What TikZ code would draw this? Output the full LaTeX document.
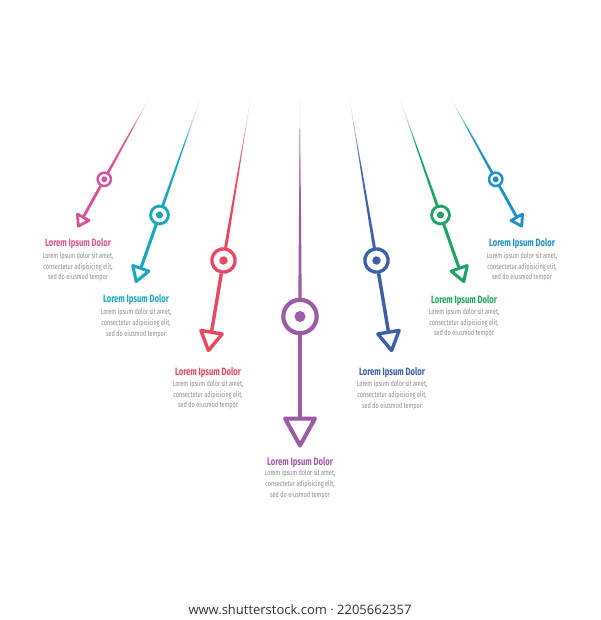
\documentclass[tikz,border=0pt]{standalone}
\usepackage{fontspec}
\setmainfont{Fira Sans}
\newfontfamily\condfont{Fira Sans}[FakeStretch=0.72]
\newfontfamily\footfont{Open Sans}
\usetikzlibrary{calc}
\definecolor{cpink}{HTML}{D6539A}
\definecolor{ccyan}{HTML}{1BA8BE}
\definecolor{cred}{HTML}{E8495E}
\definecolor{cpurple}{HTML}{9B5BA5}
\definecolor{cblue}{HTML}{3B5FA8}
\definecolor{cgreen}{HTML}{1FA463}
\definecolor{clblue}{HTML}{1E90C8}
\definecolor{bodygray}{HTML}{8C8C8C}
\colorlet{fadetop}{black!12}
\tikzset{
  titletext/.style={font=\condfont\bfseries\fontsize{10.6}{12}\selectfont, anchor=center, inner sep=0pt},
  bodytext/.style={font=\condfont\fontsize{7.7}{10.8}\selectfont, text=bodygray, align=center, anchor=center, inner sep=0pt},
  foottext/.style={font=\footfont\fontsize{13}{15}\selectfont, text=black!80, anchor=center, inner sep=0pt}
}
% #1 name, #2 colour, #3 x, #4 y, #5 angle, #6 scale, #7 stem length
\newcommand{\radarrow}[7]{%
\begin{scope}[shift={(#3,#4)}, rotate=#5]
  \coordinate (#1c) at (0,0);
  \pgfmathsetmacro{\sc}{#6}
  \pgfmathsetmacro{\Ro}{18.8*\sc}
  \pgfmathsetmacro{\rw}{1.2+3*\sc}
  \pgfmathsetmacro{\sw}{2+2*\sc}
  \pgfmathsetmacro{\hw}{1.1+0.6*\sc}
  \pgfmathsetmacro{\Ltot}{#7-\Ro+0.5}
  \pgfmathsetmacro{\um}{-#7+0.5*\Ltot}
  \pgfmathsetmacro{\wm}{0.5*\hw}
  \pgfmathsetmacro{\ue}{-\Ro+0.5}
  \coordinate (#1t) at (0,-#7);
  \shade[top color=fadetop, bottom color=#2, shading angle=#5]
    (0,-#7) -- (\wm,\um+0.3) -- (-\wm,\um+0.3) -- cycle;
  \fill[#2] (-\wm,\um) -- (\wm,\um) -- (\hw,\ue) -- (-\hw,\ue) -- cycle;
  \pgfmathsetmacro{\rr}{\Ro-\rw/2}
  \pgfmathsetmacro{\dr}{1.2+4.3*\sc}
  \pgfmathsetmacro{\ba}{100*\sc+\sw/2}
  \pgfmathsetmacro{\tp}{131*\sc-\sw/2}
  \pgfmathsetmacro{\ah}{14.5*\sc+0.5}
  \draw[#2, line width=\rw pt] (#1c) circle[radius=\rr pt];
  \fill[#2] (#1c) circle[radius=\dr pt];
  \coordinate (#1s) at (0,\Ro-0.3);
  \coordinate (#1b) at (0,\ba);
  \draw[#2, line width=\sw pt] (#1s) -- (#1b);
  \draw[#2, line width=\sw pt, line join=round] (-\ah,\ba) -- (\ah,\ba) -- (0,\tp) -- cycle;
\end{scope}}
\newcommand{\lorembody}{Lorem ipsum dolor sit amet,\\consectetur adipisicing elit,\\sed do eiusmod tempor}
\begin{document}
\begin{tikzpicture}[x=1pt,y=-1pt]
\fill[white] (0,0) rectangle (600,620);
\useasboundingbox (0,0) rectangle (600,620);

\radarrow{pk}{cpink}{104.3}{179.3}{-29}{0.42}{93}
\radarrow{cy}{ccyan}{159.5}{215}{-19.3}{0.55}{124}
\radarrow{rd}{cred}{223.5}{260.5}{-9.5}{0.71}{164}
\radarrow{pu}{cpurple}{300}{316.5}{0}{1}{218}
\radarrow{bl}{cblue}{376.5}{260.5}{9.5}{0.71}{164}
\radarrow{gr}{cgreen}{440.5}{215}{19.3}{0.55}{124}
\radarrow{lb}{clblue}{495.7}{179.3}{29}{0.42}{93}

\node[titletext, text=cpink] (pkT) at (78,244) {Lorem Ipsum Dolor};
\node[bodytext] (pkB) at (78,267) {\lorembody};
\node[titletext, text=ccyan] (cyT) at (136,300) {Lorem Ipsum Dolor};
\node[bodytext] (cyB) at (136,323.5) {\lorembody};
\node[titletext, text=cred] (rdT) at (208,373) {Lorem Ipsum Dolor};
\node[bodytext] (rdB) at (208,395) {\lorembody};
\node[titletext, text=cpurple] (puT) at (300,463) {Lorem Ipsum Dolor};
\node[bodytext] (puB) at (300,484.5) {\lorembody};
\node[titletext, text=cblue] (blT) at (392,373) {Lorem Ipsum Dolor};
\node[bodytext] (blB) at (392,395.5) {\lorembody};
\node[titletext, text=cgreen] (grT) at (464,301) {Lorem Ipsum Dolor};
\node[bodytext] (grB) at (464,323) {\lorembody};
\node[titletext, text=clblue] (lbT) at (522,244) {Lorem Ipsum Dolor};
\node[bodytext] (lbB) at (522,267) {\lorembody};

\node[foottext] (foot) at (300,610) {www.shutterstock.com · 2205662357};
\end{tikzpicture}
\end{document}
